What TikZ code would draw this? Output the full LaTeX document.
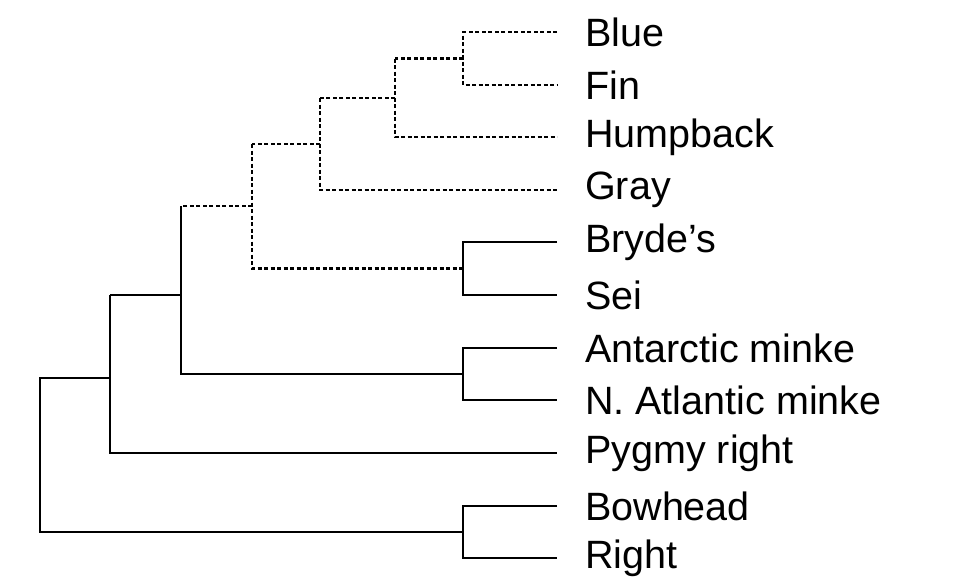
\documentclass[tikz,border=0pt]{standalone}
\usepackage{fontspec}
\setmainfont{Liberation Sans}
\begin{document}
\begin{tikzpicture}[x=1pt,y=-1pt,
  br/.style={line width=1.8pt},
  dbr/.style={line width=2.2pt,dash pattern=on 4pt off 2.5pt},
  lab/.style={anchor=west,inner sep=0pt,font=\fontsize{39.5}{39.5}\selectfont}]
\useasboundingbox (0,0) rectangle (961,579);
% leaves
\foreach \n/\y/\t in {blue/32/Blue,fin/85/Fin,hump/137/Humpback,gray/190/Gray,bryde/242/Bryde’s,sei/295/Sei,ant/348/Antarctic minke,natl/400/N. Atlantic minke,pyg/453/Pygmy right,bow/506/Bowhead,right/558/Right}{
  \coordinate (\n) at (557,\y);
  \node[lab] (t\n) at (585,\y) {\t};
}
% internal nodes
\coordinate (bf) at (463,58.5);
\coordinate (bfh) at (395,98);
\coordinate (bfhg) at (320,144);
\coordinate (bs) at (463,268.5);
\coordinate (dash) at (252,206);
\coordinate (mk) at (463,374);
\coordinate (rq) at (181,295);
\coordinate (py) at (110,378);
\coordinate (br) at (463,532);
\coordinate (root) at (40,400);
% dashed part
\draw[dbr] (blue) -| (bf) |- (fin);
\draw[dbr] (bf) -- (bf -| bfh);
\draw[dbr] (bf -| bfh) |- (hump);
\draw[dbr] (bfh) -- (bfh -| bfhg);
\draw[dbr] (bfh -| bfhg) |- (gray);
\draw[dbr] (bfhg) -- (bfhg -| dash);
\draw[dbr] (bfhg -| dash) |- (bs);
\draw[dbr] (dash) -- (dash -| rq);
% solid
\draw[br] (bryde) -| (bs) |- (sei);
\draw[br] (ant) -| (mk) |- (natl);
\draw[br] (dash -| rq) |- (mk);
\draw[br] (rq) -- (rq -| py);
\draw[br] (rq -| py) |- (pyg);
\draw[br] (bow) -| (br) |- (right);
\draw[br] (py) -| (root) |- (br);
\end{tikzpicture}
\end{document}
